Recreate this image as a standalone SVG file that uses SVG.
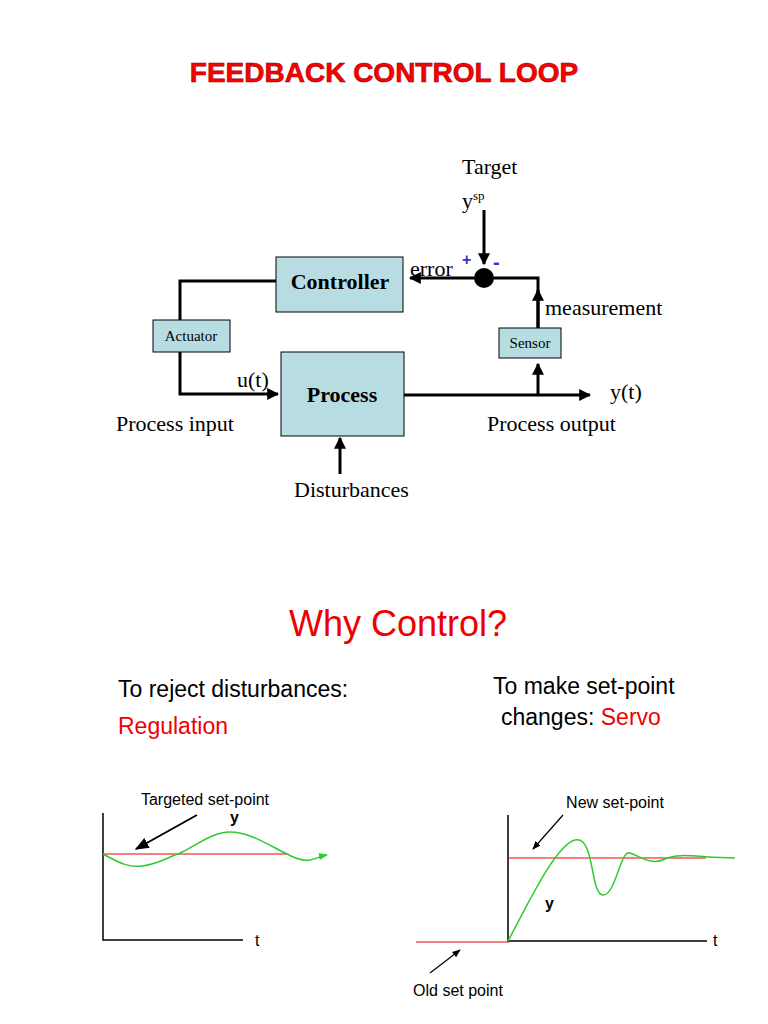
<svg xmlns="http://www.w3.org/2000/svg" width="768" height="1024" viewBox="0 0 768 1024">
<defs>
<style>
.box{fill:#b7dde3;stroke:#000;stroke-width:1}
.ln{fill:none;stroke:#000;stroke-width:3}
.tl{fill:none;stroke:#000;stroke-width:1.5}
.s{font-family:"Liberation Serif",serif;font-size:22px}
.a{font-family:"Liberation Sans",sans-serif}
.red{fill:#e00}
</style>
<marker id="ah" viewBox="0 0 10 10" refX="9" refY="5" markerWidth="4" markerHeight="4" orient="auto"><path d="M0,0L10,5L0,10z" fill="#000"/></marker>
<marker id="as" viewBox="0 0 10 10" refX="9" refY="5" markerWidth="7" markerHeight="7" orient="auto"><path d="M0,1L10,5L0,9z" fill="#000"/></marker>
<marker id="ag" viewBox="0 0 10 10" refX="9" refY="5" markerWidth="6" markerHeight="6" orient="auto"><path d="M0,1L10,5L0,9z" fill="#2ecc2e"/></marker>
</defs>
<rect width="768" height="1024" fill="#fff"/>
<text x="384" y="82" text-anchor="middle" font-family="Liberation Sans,sans-serif" font-weight="bold" font-size="28" fill="#f00" stroke="#900" stroke-width="0.6">FEEDBACK CONTROL LOOP</text>
<g id="connectors">
<path class="ln" d="M484,210V264" marker-end="url(#ah)"/>
<path class="ln" d="M538,355V278H410" marker-end="url(#ah)"/>
<path class="ln" d="M276,281H180V320"/>
<path class="ln" d="M180,352V394H278" marker-end="url(#ah)"/>
<path class="ln" d="M404,395H590" marker-end="url(#ah)"/>
<path class="ln" d="M538,395V364" marker-end="url(#ah)"/>
<path class="ln" d="M538,328V290" marker-end="url(#ah)"/>
<path class="ln" d="M340,474V438" marker-end="url(#ah)"/>
</g>
<g id="sum"><circle cx="484" cy="278" r="10" fill="#000"/><text x="462" y="265" fill="#33c" font-family="Liberation Sans,sans-serif" font-size="16" font-weight="bold">+</text><text x="493" y="269" fill="#33c" font-family="Liberation Sans,sans-serif" font-size="20" font-weight="bold">-</text></g>
<g id="controller"><rect class="box" x="276" y="257" width="127" height="55"/><text class="s" x="340" y="289" text-anchor="middle" font-weight="bold">Controller</text></g>
<g id="process"><rect class="box" x="281" y="352" width="123" height="84"/><text class="s" x="342" y="402" text-anchor="middle" font-weight="bold">Process</text></g>
<g id="actuator"><rect class="box" x="153" y="320" width="77" height="32"/><text x="191" y="341" text-anchor="middle" font-family="Liberation Serif,serif" font-size="15">Actuator</text></g>
<g id="sensor"><rect class="box" x="499" y="328" width="62" height="30"/><text x="530" y="348" text-anchor="middle" font-family="Liberation Serif,serif" font-size="15">Sensor</text></g>
<text class="s" x="462" y="174">Target</text>
<text class="s" x="462" y="208">y<tspan font-size="13" dy="-8">sp</tspan></text>
<text class="s" x="410" y="276">error</text>
<text class="s" x="545" y="315">measurement</text>
<text class="s" x="237" y="387">u(t)</text>
<text class="s" x="610" y="399">y(t)</text>
<text class="s" x="116" y="431">Process input</text>
<text class="s" x="487" y="431">Process output</text>
<text class="s" x="294" y="497">Disturbances</text>
<text x="398" y="636" text-anchor="middle" font-family="Liberation Sans,sans-serif" font-size="36" fill="#e00">Why Control?</text>
<text class="a" x="118" y="697" font-size="23">To reject disturbances:</text>
<text class="a red" x="118" y="734" font-size="23">Regulation</text>
<text class="a" x="493" y="694" font-size="23">To make set-point</text>
<text class="a" x="501" y="725" font-size="23">changes: <tspan class="red">Servo</tspan></text>
<g id="plot1">
<path class="tl" d="M103,813V940H243"/>
<path d="M103,854H287" stroke="#e00" stroke-width="1.2"/>
<path d="M103,854C118,862 128,868 142,866C158,864 166,858 178,854C196,846 212,832 230,832C250,832 270,846 287,854C296,859 302,861 310,860C318,858 322,856 327,855" fill="none" stroke="#2ecc2e" stroke-width="1.5" marker-end="url(#ag)"/>
<path d="M197,815L136,849" stroke="#000" stroke-width="2" marker-end="url(#as)"/>
<text class="a" x="205" y="805" font-size="16" text-anchor="middle">Targeted set-point</text>
<text class="a" x="230" y="823" font-size="16" font-weight="bold">y</text>
<text class="a" x="255" y="946" font-size="16">t</text>
</g>
<g id="plot2">
<path class="tl" d="M508,815V941H707"/>
<path d="M416,942H509" stroke="#e00" stroke-width="1.2"/>
<path d="M508,858H706" stroke="#e00" stroke-width="1.2"/>
<path d="M508,941C525,910 555,845 575,840S590,895 603,895S620,850 630,853S650,866 665,859S700,858 735,858" fill="none" stroke="#2ecc2e" stroke-width="1.5"/>
<path d="M563,815L533,849" stroke="#000" stroke-width="1.2" marker-end="url(#as)"/>
<path d="M430,973L460,950" stroke="#000" stroke-width="1.2" marker-end="url(#as)"/>
<text class="a" x="615" y="808" font-size="16" text-anchor="middle">New set-point</text>
<text class="a" x="545" y="909" font-size="16" font-weight="bold">y</text>
<text class="a" x="713" y="946" font-size="16">t</text>
<text class="a" x="458" y="996" font-size="16" text-anchor="middle">Old set point</text>
</g>
</svg>
